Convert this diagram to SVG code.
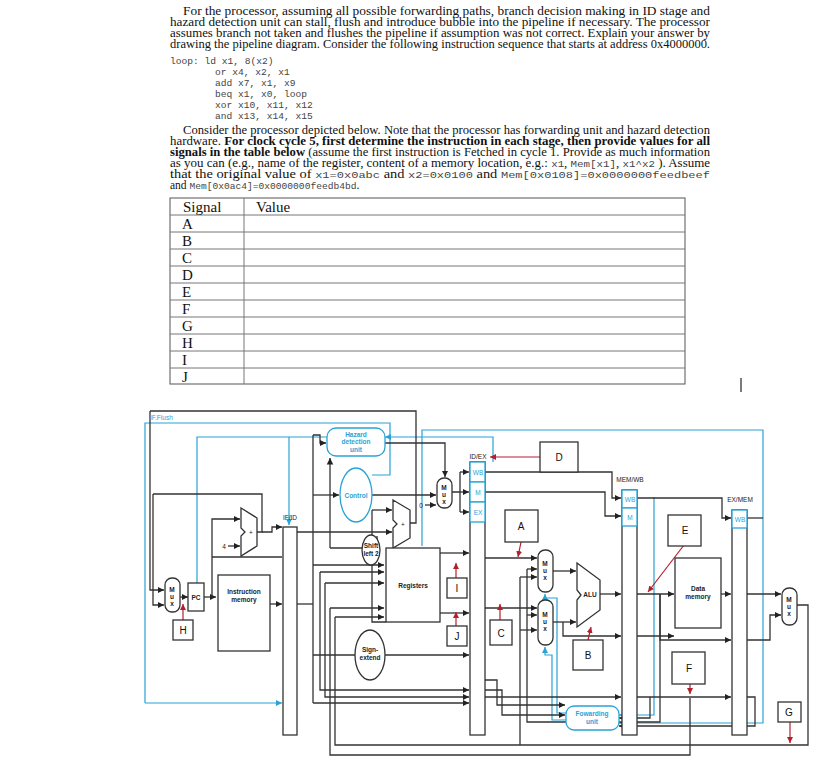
<svg xmlns="http://www.w3.org/2000/svg" width="839" height="772" viewBox="0 0 839 772">
<style>
.p{font-family:"Liberation Serif",serif;font-size:11.5px;fill:#111}
.b{font-weight:bold}
.m{font-family:"Liberation Mono",monospace;font-size:9.6px;fill:#444}
.t{font-family:"Liberation Serif",serif;font-size:15px;fill:#111}
.k{fill:none;stroke:#333;stroke-width:1.3}
.u{fill:none;stroke:#29a3d6;stroke-width:1.2}
.r{fill:none;stroke:#b3202c;stroke-width:1.2}
.box{fill:#fff;stroke:#333;stroke-width:1.3}
.ub{fill:#fff;stroke:#29a3d6;stroke-width:1.3}
.s{font-family:"Liberation Sans",sans-serif;font-size:6.5px;fill:#222;text-anchor:middle}
.sb{font-family:"Liberation Sans",sans-serif;font-size:6.5px;font-weight:bold;fill:#222;text-anchor:middle}
.bl{font-family:"Liberation Sans",sans-serif;font-size:6.5px;font-weight:bold;fill:#29a3d6;text-anchor:middle}
.bn{font-family:"Liberation Sans",sans-serif;font-size:6.5px;fill:#29a3d6;text-anchor:middle}
.L{font-family:"Liberation Sans",sans-serif;font-size:10px;fill:#111;text-anchor:middle}
</style>
<defs>
<marker id="ak" markerWidth="6" markerHeight="6" refX="5" refY="3" orient="auto"><path d="M0,0.5L5,3L0,5.5z" fill="#222"/></marker>
<marker id="au" markerWidth="6" markerHeight="6" refX="5" refY="3" orient="auto"><path d="M0,0.5L5,3L0,5.5z" fill="#29a3d6"/></marker>
<marker id="ar" markerWidth="6" markerHeight="6" refX="5" refY="3" orient="auto"><path d="M0,0.5L5,3L0,5.5z" fill="#b3202c"/></marker>
</defs>
<rect width="839" height="772" fill="#fff"/>
<g id="question">
<text class="p" x="183" y="15" textLength="527" lengthAdjust="spacingAndGlyphs">For the processor, assuming all possible forwarding paths, branch decision making in ID stage and</text>
<text class="p" x="170" y="26" textLength="540" lengthAdjust="spacingAndGlyphs">hazard detection unit can stall, flush and introduce bubble into the pipeline if necessary. The processor</text>
<text class="p" x="170" y="37" textLength="540" lengthAdjust="spacingAndGlyphs">assumes branch not taken and flushes the pipeline if assumption was not correct. Explain your answer by</text>
<text class="p" x="170" y="48" textLength="540" lengthAdjust="spacingAndGlyphs">drawing the pipeline diagram. Consider the following instruction sequence that starts at address 0x4000000.</text>
<text class="m" x="170" y="64">loop: ld x1, 8(x2)</text>
<text class="m" x="215" y="75">or x4, x2, x1</text>
<text class="m" x="215" y="86">add x7, x1, x9</text>
<text class="m" x="215" y="97">beq x1, x0, loop</text>
<text class="m" x="215" y="108">xor x10, x11, x12</text>
<text class="m" x="215" y="119">and x13, x14, x15</text>
<text class="p" x="183" y="134" textLength="527" lengthAdjust="spacingAndGlyphs">Consider the processor depicted below. Note that the processor has forwarding unit and hazard detection</text>
<text class="p" x="170" y="145" textLength="540" lengthAdjust="spacingAndGlyphs">hardware. <tspan class="b">For clock cycle 5, first determine the instruction in each stage, then provide values for all</tspan></text>
<text class="p" x="170" y="156" textLength="540" lengthAdjust="spacingAndGlyphs"><tspan class="b">signals in the table below</tspan> (assume the first instruction is Fetched in cycle 1. Provide as much information</text>
<text class="p" x="170" y="167" textLength="540" lengthAdjust="spacingAndGlyphs">as you can (e.g., name of the register, content of a memory location, e.g.: <tspan class="m">x1</tspan>, <tspan class="m">Mem[x1]</tspan>, <tspan class="m">x1^x2</tspan> ). Assume</text>
<text class="p" x="170" y="178" textLength="540" lengthAdjust="spacingAndGlyphs">that the original value of <tspan class="m">x1=0x0abc</tspan> and <tspan class="m">x2=0x0100</tspan> and <tspan class="m">Mem[0x0108]=0x0000000feedbeef</tspan></text>
<text class="p" x="170" y="189">and <tspan class="m">Mem[0x0ac4]=0x0000000feedb4bd</tspan>.</text>
</g>
<g id="table">
<rect x="170" y="198" width="515" height="186" fill="none" stroke="#555" stroke-width="1"/>
<path d="M244,198V384M170,215H685M170,232H685M170,249H685M170,266H685M170,283H685M170,300H685M170,317H685M170,334H685M170,351H685M170,368H685" stroke="#777" stroke-width="1"/>
<text class="t" x="183" y="212">Signal</text><text class="t" x="256" y="212">Value</text>
<text class="t" x="182" y="229">A</text><text class="t" x="182" y="246">B</text><text class="t" x="182" y="263">C</text><text class="t" x="182" y="280">D</text><text class="t" x="182" y="297">E</text><text class="t" x="182" y="314">F</text><text class="t" x="182" y="331">G</text><text class="t" x="182" y="348">H</text><text class="t" x="182" y="365">I</text><text class="t" x="182" y="382">J</text>
<path d="M741,378V392" stroke="#222" stroke-width="1.2"/>
</g>
<g id="connectors">
<path class="u" d="M145,703V423H390V475H372"/>
<path class="u" d="M145,703H282" marker-end="url(#au)"/>
<path class="u" d="M327,437H197V583"/>
<path class="u" d="M289,437V525" marker-end="url(#au)"/>
<path class="u" d="M493,462V437H385" marker-end="url(#au)"/>
<path class="u" d="M422,546V430H763V723H619" marker-end="url(#au)"/>
<path class="u" d="M654,497V715H619" marker-end="url(#au)"/>
<path class="u" d="M566,713H557V598H545V594" marker-end="url(#au)"/>
<path class="u" d="M566,720H552V655H545V647" marker-end="url(#au)"/>
<path class="k" d="M150,411H416V523H410"/>
<path class="k" d="M150,411V590H164" marker-end="url(#ak)"/>
<path class="k" d="M153,494H262V532H257"/>
<path class="k" d="M153,494V605H164" marker-end="url(#ak)"/>
<path class="k" d="M180,597H188" marker-end="url(#ak)"/>
<path class="k" d="M204,597H216" marker-end="url(#ak)"/>
<path class="k" d="M212,597V519H240" marker-end="url(#ak)"/>
<path class="k" d="M212,557H282"/>
<path class="k" d="M228,546H240" marker-end="url(#ak)"/>
<path class="k" d="M262,532H272V527H282" marker-end="url(#ak)"/>
<path class="k" d="M270,604H282" marker-end="url(#ak)"/>
<path class="k" d="M297,532H392" marker-end="url(#ak)"/>
<path class="k" d="M297,604H313"/>
<path class="k" d="M313,435V703"/>
<path class="k" d="M313,435H320V443H326" marker-end="url(#ak)"/>
<path class="k" d="M313,495H339" marker-end="url(#ak)"/>
<path class="k" d="M330,548V458" marker-end="url(#ak)"/>
<path class="k" d="M330,548H377V536"/>
<path class="k" d="M372,510H392" marker-end="url(#ak)"/>
<path class="k" d="M372,510V535"/>
<path class="k" d="M313,565H384" marker-end="url(#ak)"/>
<path class="k" d="M320,572H384" marker-end="url(#ak)"/>
<path class="k" d="M325,583H384" marker-end="url(#ak)"/>
<path class="k" d="M320,572V690H469" marker-end="url(#ak)"/>
<path class="k" d="M325,583V697H469" marker-end="url(#ak)"/>
<path class="k" d="M313,703H469" marker-end="url(#ak)"/>
<path class="k" d="M313,655H355"/>
<path class="k" d="M385,655H469" marker-end="url(#ak)"/>
<path class="k" d="M372,565V622H386"/>
<path class="k" d="M335,617V745H808V605H797"/>
<path class="k" d="M335,617H384" marker-end="url(#ak)"/>
<path class="k" d="M330,608H384" marker-end="url(#ak)"/>
<path class="k" d="M330,608V755H690V698"/>
<path class="k" d="M440,553H469" marker-end="url(#ak)"/>
<path class="k" d="M440,613H469" marker-end="url(#ak)"/>
<path class="k" d="M385,443H445V477" marker-end="url(#ak)"/>
<path class="k" d="M372,495H436" marker-end="url(#ak)"/>
<path class="k" d="M425,505H436" marker-end="url(#ak)"/>
<path class="k" d="M452,492H460M460,472V512"/>
<path class="k" d="M460,472H469" marker-end="url(#ak)"/><path class="k" d="M460,492H469" marker-end="url(#ak)"/><path class="k" d="M460,512H469" marker-end="url(#ak)"/>
<path class="k" d="M485,472H612V498H621" marker-end="url(#ak)"/>
<path class="k" d="M485,492H605V516H621" marker-end="url(#ak)"/>
<path class="k" d="M637,498H722V518H731" marker-end="url(#ak)"/>
<path class="k" d="M747,518H763"/>
<path class="k" d="M485,558H537" marker-end="url(#ak)"/>
<path class="k" d="M485,608H537" marker-end="url(#ak)"/>
<path class="k" d="M527,569H537" marker-end="url(#ak)"/>
<path class="k" d="M520,577H537" marker-end="url(#ak)"/>
<path class="k" d="M527,569V722H660V594"/>
<path class="k" d="M520,577V745"/>
<path class="k" d="M527,615H537" marker-end="url(#ak)"/>
<path class="k" d="M520,630H537" marker-end="url(#ak)"/>
<path class="k" d="M553,571H576" marker-end="url(#ak)"/>
<path class="k" d="M553,622H576" marker-end="url(#ak)"/>
<path class="k" d="M563,622V636H621" marker-end="url(#ak)"/>
<path class="k" d="M485,680H497V705H565" marker-end="url(#ak)"/>
<path class="k" d="M485,690H502V715H565" marker-end="url(#ak)"/>
<path class="k" d="M485,697H621" marker-end="url(#ak)"/>
<path class="k" d="M600,594H621" marker-end="url(#ak)"/>
<path class="k" d="M637,594H674" marker-end="url(#ak)"/>
<path class="k" d="M637,636H674" marker-end="url(#ak)"/>
<path class="k" d="M660,594V640H731" marker-end="url(#ak)"/>
<path class="k" d="M637,697H731" marker-end="url(#ak)"/>
<path class="k" d="M720,594H731" marker-end="url(#ak)"/>
<path class="k" d="M747,594H781" marker-end="url(#ak)"/>
<path class="k" d="M747,640H770V615H781" marker-end="url(#ak)"/>
<path class="k" d="M650,697V718H619" marker-end="url(#ak)"/>
<path class="k" d="M747,697H755V726H619" marker-end="url(#ak)"/>
<path class="r" d="M540,457H490" marker-end="url(#ar)"/>
<path class="r" d="M521,542L518,557" marker-end="url(#ar)"/>
<path class="r" d="M456,578V563" marker-end="url(#ar)"/>
<path class="r" d="M456,626V612" marker-end="url(#ar)"/>
<path class="r" d="M500,620V604" marker-end="url(#ar)"/>
<path class="r" d="M588,640L591,627" marker-end="url(#ar)"/>
<path class="r" d="M684,545L648,592" marker-end="url(#ar)"/>
<path class="r" d="M690,684V694" marker-end="url(#ar)"/>
<path class="r" d="M790,722V743" marker-end="url(#ar)"/>
<path class="r" d="M183,620V604" marker-end="url(#ar)"/>
</g>
<g id="if-flush"><text x="150" y="420" font-family="Liberation Sans,sans-serif" font-size="6.5" fill="#29a3d6">IF.Flush</text></g>
<g id="pc-mux"><rect class="box" x="165" y="578" width="15" height="34" rx="7"/><text class="sb" x="172" y="592">M</text><text class="sb" x="172" y="599">u</text><text class="sb" x="172" y="606">x</text></g>
<g id="pc"><rect class="box" x="188" y="583" width="16" height="28"/><text class="sb" x="196" y="600">PC</text></g>
<g id="h"><rect class="box" x="173" y="620" width="20" height="20"/><text class="L" x="183" y="634">H</text></g>
<g id="adder-if"><path class="box" d="M241,508L257,518V546L241,556V536L245,532L241,528Z"/><text class="s" x="251" y="535">+</text><text class="s" x="224" y="549">4</text></g>
<g id="imem"><rect class="box" x="218" y="575" width="52" height="76"/><text class="sb" x="244" y="594">Instruction</text><text class="sb" x="244" y="602">memory</text></g>
<g id="ifid"><rect class="box" x="283" y="527" width="14" height="208"/><text class="s" x="290" y="520">IF/ID</text></g>
<g id="hazard"><rect class="ub" x="327" y="428" width="58" height="28" rx="9"/><text class="bl" x="356" y="437">Hazard</text><text class="bl" x="356" y="444">detection</text><text class="bl" x="356" y="452">unit</text></g>
<g id="control"><ellipse class="ub" cx="356" cy="495" rx="16" ry="27"/><text class="bl" x="356" y="498">Control</text></g>
<g id="adder-id"><path class="box" d="M393,500L410,510V538L393,548V528L397,524L393,520Z"/><text class="s" x="403" y="527">+</text></g>
<g id="shift"><ellipse class="box" cx="371" cy="550" rx="9" ry="15"/><text class="sb" x="371" y="548">Shift</text><text class="sb" x="371" y="556">left 2</text></g>
<g id="registers"><rect class="box" x="386" y="548" width="54" height="74"/><text class="sb" x="413" y="588">Registers</text></g>
<g id="signext"><ellipse class="box" cx="370" cy="655" rx="15" ry="25"/><text class="sb" x="370" y="652">Sign-</text><text class="sb" x="370" y="660">extend</text></g>
<g id="i"><rect class="box" x="447" y="578" width="20" height="20"/><text class="L" x="457" y="592">I</text></g>
<g id="j"><rect class="box" x="447" y="626" width="20" height="20"/><text class="L" x="457" y="640">J</text></g>
<g id="hz-mux"><rect class="box" x="437" y="478" width="15" height="30" rx="7"/><text class="sb" x="444" y="490">M</text><text class="sb" x="444" y="497">u</text><text class="sb" x="444" y="504">x</text><text class="s" x="421" y="508">0</text></g>
<g id="idex"><rect class="box" x="470" y="462" width="15" height="273"/><rect class="ub" x="470" y="462" width="15" height="20"/><rect class="ub" x="470" y="482" width="15" height="20"/><rect class="ub" x="470" y="502" width="15" height="20"/><text class="bn" x="478" y="475">WB</text><text class="bn" x="478" y="495">M</text><text class="bn" x="478" y="515">EX</text><text class="s" x="478" y="459">ID/EX</text></g>
<g id="d"><rect class="box" x="540" y="442" width="38" height="30"/><text class="L" x="559" y="461">D</text></g>
<g id="a"><rect class="box" x="505" y="510" width="33" height="32"/><text class="L" x="521" y="530">A</text></g>
<g id="c"><rect class="box" x="490" y="620" width="22" height="25"/><text class="L" x="501" y="637">C</text></g>
<g id="mux-a"><rect class="box" x="538" y="550" width="15" height="42" rx="7"/><text class="sb" x="545" y="566">M</text><text class="sb" x="545" y="573">u</text><text class="sb" x="545" y="580">x</text></g>
<g id="mux-b"><rect class="box" x="538" y="600" width="15" height="45" rx="7"/><text class="sb" x="545" y="617">M</text><text class="sb" x="545" y="624">u</text><text class="sb" x="545" y="631">x</text></g>
<g id="alu"><path class="box" d="M577,563L600,580V610L577,627V600L581,595L577,590Z"/><text class="sb" x="590" y="597">ALU</text></g>
<g id="b"><rect class="box" x="573" y="640" width="30" height="30"/><text class="L" x="588" y="659">B</text></g>
<g id="memwb"><rect class="box" x="622" y="490" width="15" height="245"/><rect class="ub" x="622" y="490" width="15" height="18"/><rect class="ub" x="622" y="508" width="15" height="18"/><text class="bn" x="630" y="502">WB</text><text class="bn" x="630" y="520">M</text><text class="s" x="630" y="482">MEM/WB</text></g>
<g id="e"><rect class="box" x="668" y="515" width="33" height="31"/><text class="L" x="685" y="534">E</text></g>
<g id="dmem"><rect class="box" x="675" y="558" width="46" height="70"/><text class="sb" x="698" y="591">Data</text><text class="sb" x="698" y="599">memory</text></g>
<g id="f"><rect class="box" x="672" y="652" width="33" height="32"/><text class="L" x="689" y="672">F</text></g>
<g id="exmem"><rect class="box" x="732" y="510" width="15" height="225"/><rect class="ub" x="732" y="510" width="15" height="18"/><text class="bn" x="740" y="522">WB</text><text class="s" x="740" y="502">EX/MEM</text></g>
<g id="wb-mux"><rect class="box" x="782" y="588" width="15" height="37" rx="7"/><text class="sb" x="789" y="602">M</text><text class="sb" x="789" y="609">u</text><text class="sb" x="789" y="616">x</text></g>
<g id="g"><rect class="box" x="778" y="702" width="23" height="20"/><text class="L" x="789" y="716">G</text></g>
<g id="fwd"><rect class="ub" x="566" y="706" width="53" height="24" rx="8"/><text class="bl" x="592" y="716">Fowarding</text><text class="bl" x="592" y="724">unit</text></g>
</svg>
